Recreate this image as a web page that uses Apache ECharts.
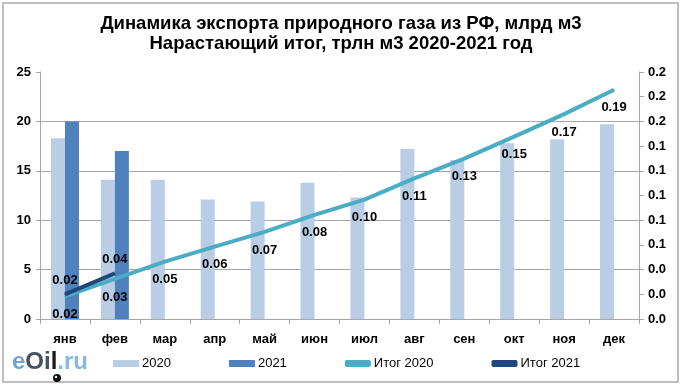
<!DOCTYPE html>
<html>
<head>
<meta charset="utf-8">
<script src="https://cdn.jsdelivr.net/npm/echarts@6/dist/echarts.min.js"></script>
<style>
html,body{margin:0;padding:0;background:#fff;}
#chart{width:682px;height:389px;}
</style>
</head>
<body>
<div id="chart"></div>
<script>
var titleLines = ['Динамика экспорта природного газа из РФ, млрд м3', 'Нарастающий итог, трлн м3 2020-2021 год'];
var months = ['янв','фев','мар','апр','май','июн','июл','авг','сен','окт','ноя','дек'];
var exp2020 = [18.3, 14.1, 14.1, 12.1, 11.9, 13.8, 12.3, 17.2, 16.1, 17.8, 18.2, 19.7];
var exp2021 = [20.0, 17.0, '-', '-', '-', '-', '-', '-', '-', '-', '-', '-'];
var cum2020 = [0.0183, 0.0324, 0.0465, 0.0586, 0.0705, 0.0843, 0.0966, 0.1138, 0.1299, 0.1477, 0.1659, 0.1856];
var cum2021 = [0.0200, 0.0370, '-', '-', '-', '-', '-', '-', '-', '-', '-', '-'];
var seriesNames = ['2020', '2021', 'Итог 2020', 'Итог 2021'];

var FONT = '"Liberation Sans", Arial, sans-serif';
var chart = echarts.init(document.getElementById('chart'), null, {renderer: 'canvas'});
var grid = {left: 40, right: 43, top: 72, bottom: 70};

var labelStyle = {fontFamily: FONT, fontSize: 13, fontWeight: 'bold', color: '#000'};

chart.setOption({
  animation: false,
  backgroundColor: '#fff',
  title: {
    text: titleLines.join('\n'),
    left: 'center',
    top: 14,
    padding: 0,
    textStyle: {fontFamily: FONT, fontSize: 18.5, fontWeight: 'bold', color: '#000', lineHeight: 20}
  },
  graphic: [
    {type: 'rect', shape: {x: 3, y: 3, width: 675, height: 379}, style: {fill: 'none', stroke: '#bfbfbf', lineWidth: 2}, silent: true, z: -1},
    {type: 'text', left: 12, top: 350, style: {
      text: '{a|e}{b|Oi}{d|l}{c|.ru}',
      rich: {
        a: {fontFamily: FONT, fontSize: 24, fill: '#6fa3d2', fontWeight: 'bold'},
        b: {fontFamily: FONT, fontSize: 24, fill: '#46525f', fontWeight: 'bold'},
        d: {fontFamily: FONT, fontSize: 24, fill: '#1a1a1a', fontWeight: 'bold'},
        c: {fontFamily: FONT, fontSize: 24, fill: '#8ab8e0', fontWeight: 'bold'}
      }
    }},
    {type: 'circle', shape: {cx: 57, cy: 378, r: 4}, style: {fill: '#111'}},
    {type: 'circle', shape: {cx: 56, cy: 377, r: 1.2}, style: {fill: '#fff'}}
  ],
  legend: {
    left: 113,
    top: 357,
    padding: 0,
    itemGap: 58,
    itemWidth: 26,
    itemHeight: 7,
    textStyle: {fontFamily: FONT, fontSize: 13, color: '#000', padding: [0, 0, 0, -2]},
    data: [
      {name: '2020', icon: 'rect'},
      {name: '2021', icon: 'rect'},
      {name: 'Итог 2020', icon: 'roundRect'},
      {name: 'Итог 2021', icon: 'roundRect'}
    ]
  },
  grid: grid,
  xAxis: {
    type: 'category',
    data: months,
    axisLine: {lineStyle: {color: '#a6a6a6', width: 1}},
    axisTick: {show: true, length: 5, lineStyle: {color: '#a6a6a6'}},
    axisLabel: {fontFamily: FONT, fontSize: 13, fontWeight: 'bold', color: '#000', margin: 14}
  },
  yAxis: [
    {
      type: 'value', min: 0, max: 25, interval: 5,
      axisLine: {show: true, lineStyle: {color: '#a6a6a6'}},
      axisTick: {show: true, length: 4, lineStyle: {color: '#a6a6a6'}},
      axisLabel: {fontFamily: FONT, fontSize: 13, fontWeight: 'bold', color: '#000', margin: 9},
      splitLine: {show: true, lineStyle: {color: ['#a6a6a6','#a6a6a6','#a6a6a6','#a6a6a6','#a6a6a6','rgba(0,0,0,0)'], width: 1}}
    },
    {
      type: 'value', min: 0, max: 0.2, interval: 0.02, position: 'right',
      axisLine: {show: true, lineStyle: {color: '#a6a6a6'}},
      axisTick: {show: true, length: 5, lineStyle: {color: '#a6a6a6'}},
      axisLabel: {fontFamily: FONT, fontSize: 13, fontWeight: 'bold', color: '#000', margin: 9,
        formatter: function (v) { return v.toFixed(1); }},
      splitLine: {show: false}
    }
  ],
  series: [
    {
      name: seriesNames[0], type: 'bar', yAxisIndex: 0, data: exp2020,
      barWidth: 14, barGap: '0%',
      itemStyle: {color: '#b9cde5'}
    },
    {
      name: seriesNames[1], type: 'bar', yAxisIndex: 0, data: exp2021,
      barWidth: 14, barGap: '0%',
      itemStyle: {color: '#4f81bd'}
    },
    {
      name: seriesNames[2], type: 'line', yAxisIndex: 1, data: cum2020,
      symbol: 'circle', symbolSize: 1, showSymbol: true,
      lineStyle: {color: '#4bacc6', width: 4},
      itemStyle: {color: '#4bacc6'},
      label: Object.assign({show: true, position: 'bottom', distance: 11,
        formatter: function (p) { return p.value.toFixed(2); }}, labelStyle),
      z: 3
    },
    {
      name: seriesNames[3], type: 'line', yAxisIndex: 1, data: cum2021,
      symbol: 'circle', symbolSize: 1, showSymbol: true,
      lineStyle: {color: '#1f497d', width: 4},
      itemStyle: {color: '#1f497d'},
      label: Object.assign({show: true, position: 'top', distance: 7,
        formatter: function (p) { return p.value.toFixed(2); }}, labelStyle),
      z: 4
    }
  ]
});
</script>
</body>
</html>
